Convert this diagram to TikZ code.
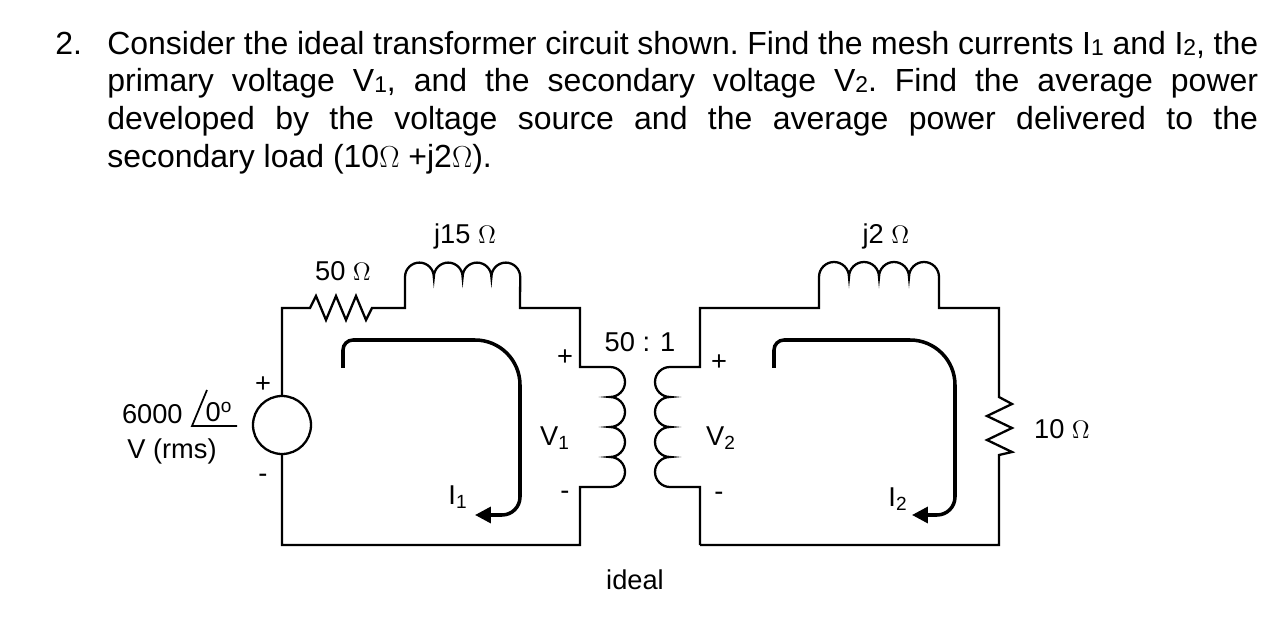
\documentclass[tikz,border=0pt]{standalone}
\usepackage{fontspec}
\setmainfont{Liberation Sans}
\usetikzlibrary{arrows.meta}
\tikzset{
  wire/.style={line width=1.3pt, line join=miter},
  mesh/.style={line width=2pt, -{Triangle[length=9pt,width=9pt]}},
  lbl/.style={font=\fontsize{15.5}{17}\selectfont, inner sep=0pt},
  qline/.style={anchor=base west, inner sep=0pt, font=\fontsize{18.2}{21}\selectfont},
}
\newcommand{\jline}[1]{\hbox to 23.02cm{\frenchspacing #1}}
\newcommand{\qsub}[1]{\raisebox{-0.5pt}{\fontsize{13}{13}\selectfont #1}}
\begin{document}
\begin{tikzpicture}[x=0.02cm,y=-0.02cm]
  \useasboundingbox (0,0) rectangle (1286,618);

  % Question
  \node[qline] (num) at (55,55) {2.};
  \node[qline] (q1) at (107,55) {\jline{Consider the ideal transformer circuit shown. Find the mesh currents I\qsub{1} and I\qsub{2}, the}};
  \node[qline] (q2) at (107,92) {\jline{primary voltage V\qsub{1}, and the secondary voltage V\qsub{2}. Find the average power}};
  \node[qline] (q3) at (107,130) {\jline{developed by the voltage source and the average power delivered to the}};
  \node[qline] (q4) at (107,168) {secondary load (10$\Omega$ +j2$\Omega$).};

  % Corners
  \coordinate (tl) at (282,308);
  \coordinate (bl) at (282,545);
  \coordinate (pt) at (580,308);
  \coordinate (pb) at (580,545);
  \coordinate (st) at (700,308);
  \coordinate (sb) at (700,545);
  \coordinate (tr) at (999,308);
  \coordinate (br) at (999,545);

  % Primary loop
  \draw[wire] (282,396) -- (tl) -- (310,308)
    -- (316,296) -- (326,320) -- (336,296) -- (346,320) -- (356,296) -- (366,320) -- (372,308)
    -- (405,308) -- (405,277)
    arc(180:360:14.4) arc(180:360:14.4) arc(180:360:14.4) arc(180:360:14.4)
    -- (520,308) -- (pt) -- (580,367) -- (610,367)
    arc(-90:90:15) arc(-90:90:15) arc(-90:90:15) arc(-90:90:15)
    -- (580,487) -- (pb) -- (bl) -- (282,454);
  \draw[wire] (282,425) circle (29);

  % Secondary loop
  \draw[wire] (sb) -- (700,487) -- (670,487)
    arc(90:270:15) arc(90:270:15) arc(90:270:15) arc(90:270:15)
    -- (700,367) -- (st) -- (819,308) -- (819,277)
    arc(180:360:15) arc(180:360:15) arc(180:360:15) arc(180:360:15)
    -- (939,308) -- (tr) -- (999,397)
    -- (1012,404) -- (987,416) -- (1012,428) -- (987,440) -- (1012,452) -- (999,455)
    -- (br) -- (sb);

  % Mesh currents
  \draw[mesh] (343,368) -- (343,350) arc(180:270:10) -- (475,340)
    arc(270:360:45) -- (520,497) arc(0:90:18) -- (475,515);
  \draw[mesh] (774,368) -- (774,350) arc(180:270:10) -- (910,340)
    arc(270:360:45) -- (955,497) arc(0:90:18) -- (912,515);

  % Labels
  \node[lbl] (r1) at (343,271) {50 $\Omega$};
  \node[lbl] (l1) at (465,236) {j15 $\Omega$};
  \node[lbl] (ratio) at (640,342) {50 : 1};
  \node[lbl] (p1) at (565,358) {+};
  \node[lbl] (v1) at (555,438) {V\textsubscript{1}};
  \node[lbl] (m1) at (565,495) {-};
  \node[lbl] (p2) at (719,363) {+};
  \node[lbl] (v2) at (721,438) {V\textsubscript{2}};
  \node[lbl] (m2) at (719,496) {-};
  \node[lbl] (l2) at (886,236) {j2 $\Omega$};
  \node[lbl] (r2) at (1062,429) {10 $\Omega$};
  \node[lbl] (ps) at (263,385) {+};
  \node[lbl] (ms) at (263,478) {-};
  \node[lbl] (i1) at (458,497) {I\textsubscript{1}};
  \node[lbl] (i2) at (898,499) {I\textsubscript{2}};
  \node[lbl] (ideal) at (635,580) {ideal};
  \node[lbl, anchor=east] (mag) at (183,414) {6000};
  \node[lbl] (ph) at (219,412) {0\textsuperscript{o}};
  \node[lbl] (unit) at (172,451) {V (rms)};
  \draw[line width=1pt] (207,390) -- (192,426) -- (237,426);
\end{tikzpicture}
\end{document}
